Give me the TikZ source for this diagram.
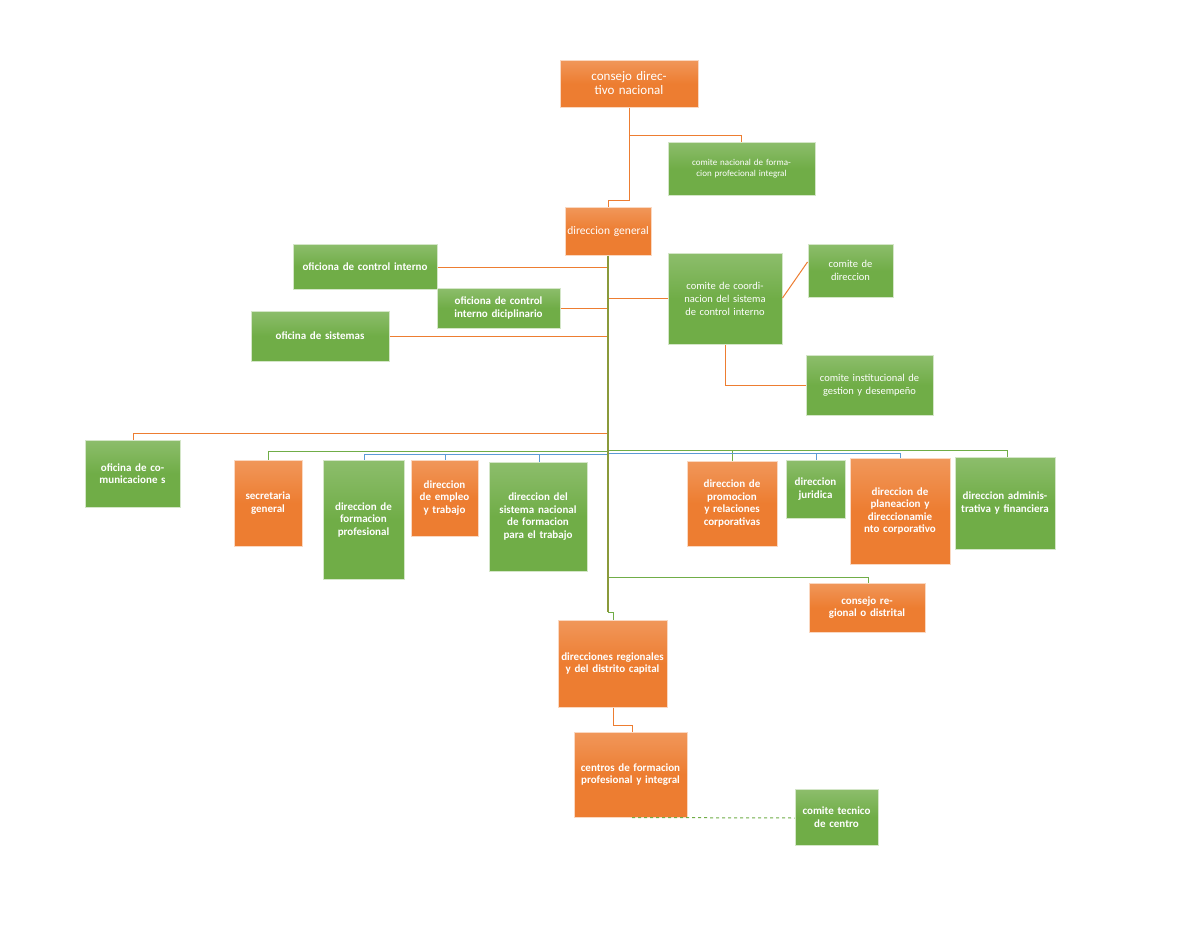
\documentclass[tikz,border=0pt]{standalone}
\usepackage{fontspec}
\setmainfont{Carlito}
\usetikzlibrary{calc}
\definecolor{org}{HTML}{ED7D31}
\definecolor{grn}{HTML}{70AD47}
\definecolor{blu}{HTML}{5B9BD5}
\definecolor{olv}{HTML}{8A9A3B}
\tikzset{
 box/.style={draw=white!70!#1, line width=1pt, inner sep=1pt, text=white, align=center, font=\bfseries\fontsize{11}{12.5}\selectfont,
   top color=#1!80!white, bottom color=#1, middle color=#1},
 ob/.style={box=org}, gb/.style={box=grn},
 ol/.style={draw=org, line width=1pt},
 gl/.style={draw=grn, line width=1pt},
 bl/.style={draw=blu, line width=1pt},
}
\newcommand\mybox[7]{%
 \pgfmathsetmacro\bw{#5-#3}\pgfmathsetmacro\bh{#6-#4}%
 \pgfmathsetmacro\bcx{(#3+#5)/2}\pgfmathsetmacro\bcy{(#4+#6)/2}%
 \pgfmathsetmacro\tw{#5-#3-4}%
 \node[#2, minimum width=\bw pt, minimum height=\bh pt, text width=\tw pt] (#1) at (\bcx,\bcy) {#7};}
\begin{document}
\begin{tikzpicture}[x=1pt,y=-1pt]
\fill[white] (0,0) rectangle (1200,927);
\useasboundingbox (0,0) rectangle (1200,927);
% connectors
\coordinate (c1) at (629,135); \coordinate (c2) at (741,135);
\coordinate (c3) at (629,200); \coordinate (c4) at (608,200);
\coordinate (t1) at (608,612); \coordinate (t2) at (613,612);
% boxes
\mybox{cdn}{ob,font=\fontsize{13}{14}\selectfont}{560}{60}{698}{107}{consejo directivo nacional}
\mybox{cnf}{gb,font=\fontsize{9}{11}\selectfont}{668}{142}{815}{195}{comite nacional de formacion profecional integral}
\mybox{dg}{ob,font=\fontsize{11.5}{13}\selectfont}{565}{207}{651}{255}{direccion general}
\mybox{oci}{gb}{293}{244}{437}{289}{oficiona de control interno}
\mybox{ocd}{gb}{437}{288}{560}{328}{oficiona de control interno diciplinario}
\mybox{os}{gb}{251}{311}{389}{361}{oficina de sistemas}
\mybox{ccs}{gb,font=\fontsize{10.5}{13}\selectfont}{668}{253}{782}{344}{comite de coordinacion del sistema de control interno}
\mybox{cd}{gb,font=\fontsize{10.5}{13}\selectfont}{808}{244}{893}{297}{comite de direccion}
\mybox{cig}{gb,font=\fontsize{10.5}{13}\selectfont}{806}{355}{933}{415}{comite institucional de gestion y desempeño}
\mybox{oc}{gb}{85}{440}{180}{507}{oficina de comunicacione s}
\mybox{sg}{ob}{234}{460}{302}{546}{secretaria general}
\mybox{dfp}{gb}{323}{460}{404}{579}{direccion de formacion profesional}
\mybox{det}{ob}{411}{460}{478}{536}{direccion de empleo y trabajo}
\mybox{dsn}{gb}{489}{462}{587}{571}{direccion del sistema nacional de formacion para el trabajo}
\mybox{dpr}{ob}{687}{461}{777}{546}{direccion de promocion y relaciones corporativas}
\mybox{dj}{gb}{786}{460}{845}{518}{direccion juridica}
\mybox{dpd}{ob}{850}{458}{950}{564}{direccion de planeacion y direccionamie nto corporativo}
\mybox{daf}{gb}{955}{457}{1055}{549}{direccion administrativa y financiera}
\mybox{crd}{ob}{809}{583}{925}{632}{consejo regional o distrital}
\mybox{drd}{ob}{558}{620}{667}{707}{direcciones regionales y del distrito capital}
\mybox{cfp}{ob}{574}{732}{687}{817}{centros de formacion profesional y integral}
\mybox{ctc}{gb}{795}{789}{878}{845}{comite tecnico de centro}
% lines
\draw[ol] (cdn.south) ++(0,0) |- (c2) -- (cnf.north -| c2);
\draw[ol] (c1) -- (c3) -- (c4) -- (dg.north -| c4);
\draw[ol] (oci.east |- 0,267) -- (608,267);
\draw[ol] (ocd.east |- 0,308) -- (608,308);
\draw[ol] (os.east |- 0,336) -- (608,336);
\draw[ol] (608,298) -- (ccs.west |- 0,298);
\draw[ol] (ccs.east |- 0,298) -- (cd.west |- 0,262);
\draw[ol] (ccs.south -| 725,0) |- (cig.west |- 0,385);
\draw[ol] (608,433) -| (oc.north -| 133,0);
\draw[gl] (608,451) -| (sg.north -| 268,0);
\draw[bl] (608,454) -| (dfp.north -| 364,0);
\draw[bl] (445,454) -- (det.north -| 445,0);
\draw[bl] (539,454) -- (dsn.north -| 539,0);
\draw[gl] (608,450) -| (daf.north -| 1007,0);
\draw[gl] (732,450) -- (dpr.north -| 732,0);
\draw[bl] (608,453) -| (dpd.north -| 900,0);
\draw[bl] (816,453) -- (dj.north -| 816,0);
\draw[gl] (608,577) -| (crd.north -| 868,0);
\draw[olv, line width=1.3pt] (dg.south -| 608,0) -- (t1);
\draw[gl] (t1) -- (t2) -- (drd.north -| t2);
\draw[ol] (drd.south -| 613,0) |- (632,725) -- (cfp.north -| 632,0);
\draw[gl, dashed] (cfp.south -| 632,0) -- (ctc.west |- 0,818);
\end{tikzpicture}
\end{document}
